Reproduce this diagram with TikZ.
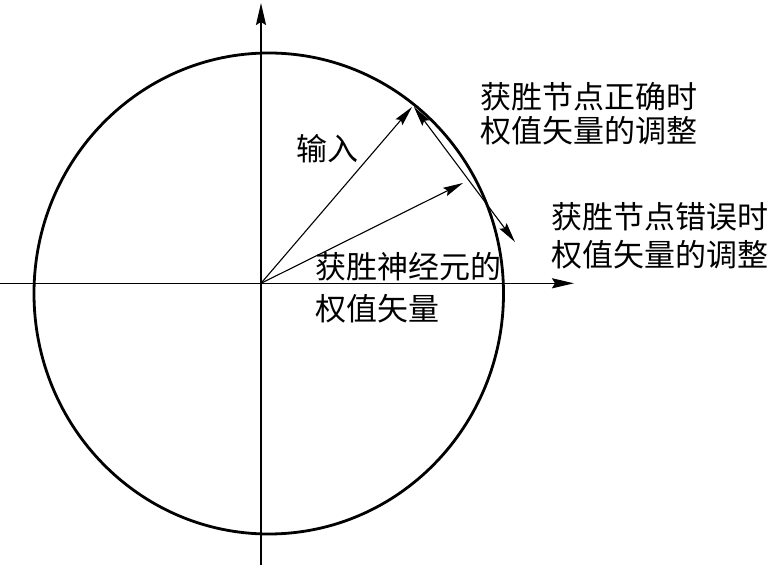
\documentclass[tikz,border=0pt]{standalone}
\usepackage{fontspec}
\newfontfamily\cjk{Noto Sans CJK SC}
\usetikzlibrary{arrows.meta}
\begin{document}
\begin{tikzpicture}[x=1pt,y=-1pt,
  axisline/.style={line width=1.5pt,-{Stealth[length=22pt,width=10pt,inset=3pt]}},
  vec/.style={line width=1.1pt,-{Stealth[length=20pt,width=9pt,inset=3pt]}},
  lbl/.style={anchor=base west,inner sep=0pt,font=\cjk\fontsize{31}{34}\selectfont}]
\useasboundingbox (0,0) rectangle (772,569);
\coordinate (O) at (261,283.3);
\coordinate (xl) at (0,283.3);
\coordinate (xr) at (574,283.3);
\coordinate (yb) at (261,565);
\coordinate (yt) at (261,3);
\coordinate (inp) at (412,107);
\coordinate (wgt) at (463,183);
\coordinate (adjA) at (414,107);
\coordinate (adjB) at (515,242);
\draw[line width=2.8pt] (268.75,293.5) ellipse [x radius=234.75, y radius=240.5];
\draw[axisline] (xl) -- (xr);
\draw[axisline] (yb) -- (yt);
\draw[vec] (O) -- (inp);
\draw[vec] (O) -- (wgt);
\draw[line width=1.1pt,{Stealth[length=20pt,width=9pt,inset=3pt]}-{Stealth[length=20pt,width=9pt,inset=3pt]}] (adjA) -- (adjB);
\node[lbl] (t1a) at (480.5,109) {获胜节点正确时};
\node[lbl] (t1b) at (480.5,143) {权值矢量的调整};
\node[lbl] (t2a) at (551.5,229) {获胜节点错误时};
\node[lbl] (t2b) at (551.5,267) {权值矢量的调整};
\node[lbl] (t3a) at (315.5,279) {获胜神经元的};
\node[lbl] (t3b) at (315.5,321) {权值矢量};
\node[lbl] (t4) at (296.5,161) {输入};
\end{tikzpicture}
\end{document}
